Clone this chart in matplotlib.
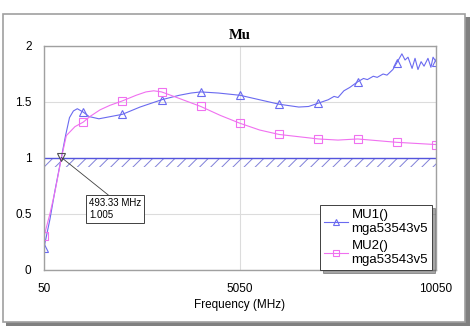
import matplotlib.pyplot as plt
from matplotlib.patches import Rectangle

# MU1 (blue, triangles)
f1 = [50, 200, 330, 493.33, 600, 700, 800, 900, 1050, 1200, 1450, 1750, 2050,
      2500, 3050, 3500, 3800, 4050, 4500, 5050, 5550, 6050, 6550, 6800, 7050,
      7300, 7450, 7550, 7700, 7850, 8050, 8200, 8300, 8450, 8550, 8700, 8800,
      8950, 9050, 9180, 9260, 9336, 9440, 9515, 9590, 9670, 9745, 9845, 9920,
      9975, 10050]
mu1 = [0.20, 0.45, 0.71, 1.005, 1.20, 1.36, 1.42, 1.44, 1.41, 1.37, 1.35, 1.37,
       1.39, 1.455, 1.52, 1.56, 1.58, 1.59, 1.58, 1.56, 1.52, 1.48, 1.455, 1.46,
       1.49, 1.52, 1.55, 1.54, 1.60, 1.63, 1.68, 1.71, 1.70, 1.73, 1.72, 1.75,
       1.74, 1.79, 1.85, 1.93, 1.875, 1.90, 1.80, 1.89, 1.79, 1.86, 1.82, 1.89,
       1.81, 1.90, 1.86]

# MU2 (magenta, squares)
f2 = [50, 200, 330, 493.33, 620, 840, 1050, 1220, 1480, 1730, 2050, 2400, 2650,
      2850, 3050, 3400, 4050, 4550, 5050, 5550, 6050, 6550, 7050, 7550, 8050,
      8550, 9050, 9550, 10050]
mu2 = [0.30, 0.50, 0.70, 1.00, 1.20, 1.28, 1.32, 1.37, 1.43, 1.47, 1.51, 1.56,
       1.59, 1.60, 1.59, 1.545, 1.46, 1.38, 1.31, 1.25, 1.21, 1.19, 1.17, 1.16,
       1.17, 1.155, 1.14, 1.13, 1.12]

marker_f = [50, 1050, 2050, 3050, 4050, 5050, 6050, 7050, 8050, 9050, 10050]
band = (0.92, 1.0)
mark_x, mark_y = 493.33, 1.005
xticks = [50, 5050, 10050]
yticks = [0, 0.5, 1, 1.5, 2]

blue = '#6a6af0'
pink = '#f070f0'

plt.rcParams['hatch.linewidth'] = 0.7

W, H = 474, 328
fig = plt.figure(figsize=(W / 100, H / 100), dpi=100)

# outer frame with shadow
fig.patches.append(Rectangle((6 / W, 1 - 326 / H), 464 / W, 309 / H,
                             transform=fig.transFigure, facecolor='#808080',
                             edgecolor='none', zorder=-5))
fig.patches.append(Rectangle((3 / W, 1 - 322 / H), 462 / W, 308 / H,
                             transform=fig.transFigure, facecolor='white',
                             edgecolor='#a0a0a0', lw=1.2, zorder=-4))

ax = fig.add_axes([44 / W, 1 - 270 / H, 392 / W, 224 / H])
ax.set_facecolor('white')

ax.fill_between([50, 10050], band[0], band[1], facecolor='none',
                edgecolor='#8080d8', hatch='///', lw=0)
ax.axhline(band[1], color='#5555dd', lw=1.0)

idx1 = [i for i, f in enumerate(f1) if f in marker_f]
idx2 = [i for i, f in enumerate(f2) if f in marker_f]
ax.plot(f1, mu1, color=blue, lw=0.8, marker='^', markevery=idx1, ms=6,
        mfc='none', mec=blue, mew=0.8, label='MU1()\nmga53543v5')
ax.plot(f2, mu2, color=pink, lw=0.8, marker='s', markevery=idx2, ms=6,
        mfc='none', mec=pink, mew=0.8, label='MU2()\nmga53543v5')

ax.plot([mark_x], [mark_y], marker='v', ms=6, mfc='none', mec='#505050',
        mew=0.8)
ax.annotate(f'{mark_x:.2f} MHz\n{mark_y:.3f}', xy=(mark_x, mark_y),
            xytext=(89 / W, 1 - 220 / H), textcoords='figure fraction',
            fontsize=7, family='Liberation Sans', ha='left', va='bottom',
            bbox=dict(boxstyle='square,pad=0.3', fc='white', ec='#404040',
                      lw=0.7),
            arrowprops=dict(arrowstyle='-', color='#404040', lw=0.6,
                            shrinkA=0, shrinkB=0, relpos=(0.45, 1.0)))

ax.set_xlim(50, 10050)
ax.set_ylim(0, 2)
ax.set_xticks(xticks)
ax.set_xticklabels([str(t) for t in xticks])
ax.set_yticks(yticks)
ax.set_yticklabels(['0', '0.5', '1', '1.5', '2'])
ax.tick_params(length=0, labelsize=8.5, pad=9)
for lab in ax.get_xticklabels() + ax.get_yticklabels():
    lab.set_family('Liberation Sans')
ax.grid(True, color='#dcdcdc', lw=0.8)
ax.set_axisbelow(True)
for s in ax.spines.values():
    s.set_color('#a0a0a0')
    s.set_linewidth(1.0)

ax.set_xlabel('Frequency (MHz)', fontsize=8.5, family='Liberation Sans',
              labelpad=3)
ax.set_title('Mu', fontsize=10.5, fontweight='bold', family='Liberation Serif',
             pad=5)

leg = ax.legend(loc='lower right', bbox_to_anchor=(1 - 4 / 392, 0),
                prop={'family': 'Liberation Sans', 'size': 9.5},
                frameon=True, fancybox=False, shadow=True, handlelength=1.8,
                handletextpad=0.3, borderpad=0.3, labelspacing=0.4,
                borderaxespad=0, markerscale=0.7)
leg.get_frame().set_edgecolor('#404040')
leg.get_frame().set_linewidth(0.7)

fig.savefig('out.png', dpi=100)
